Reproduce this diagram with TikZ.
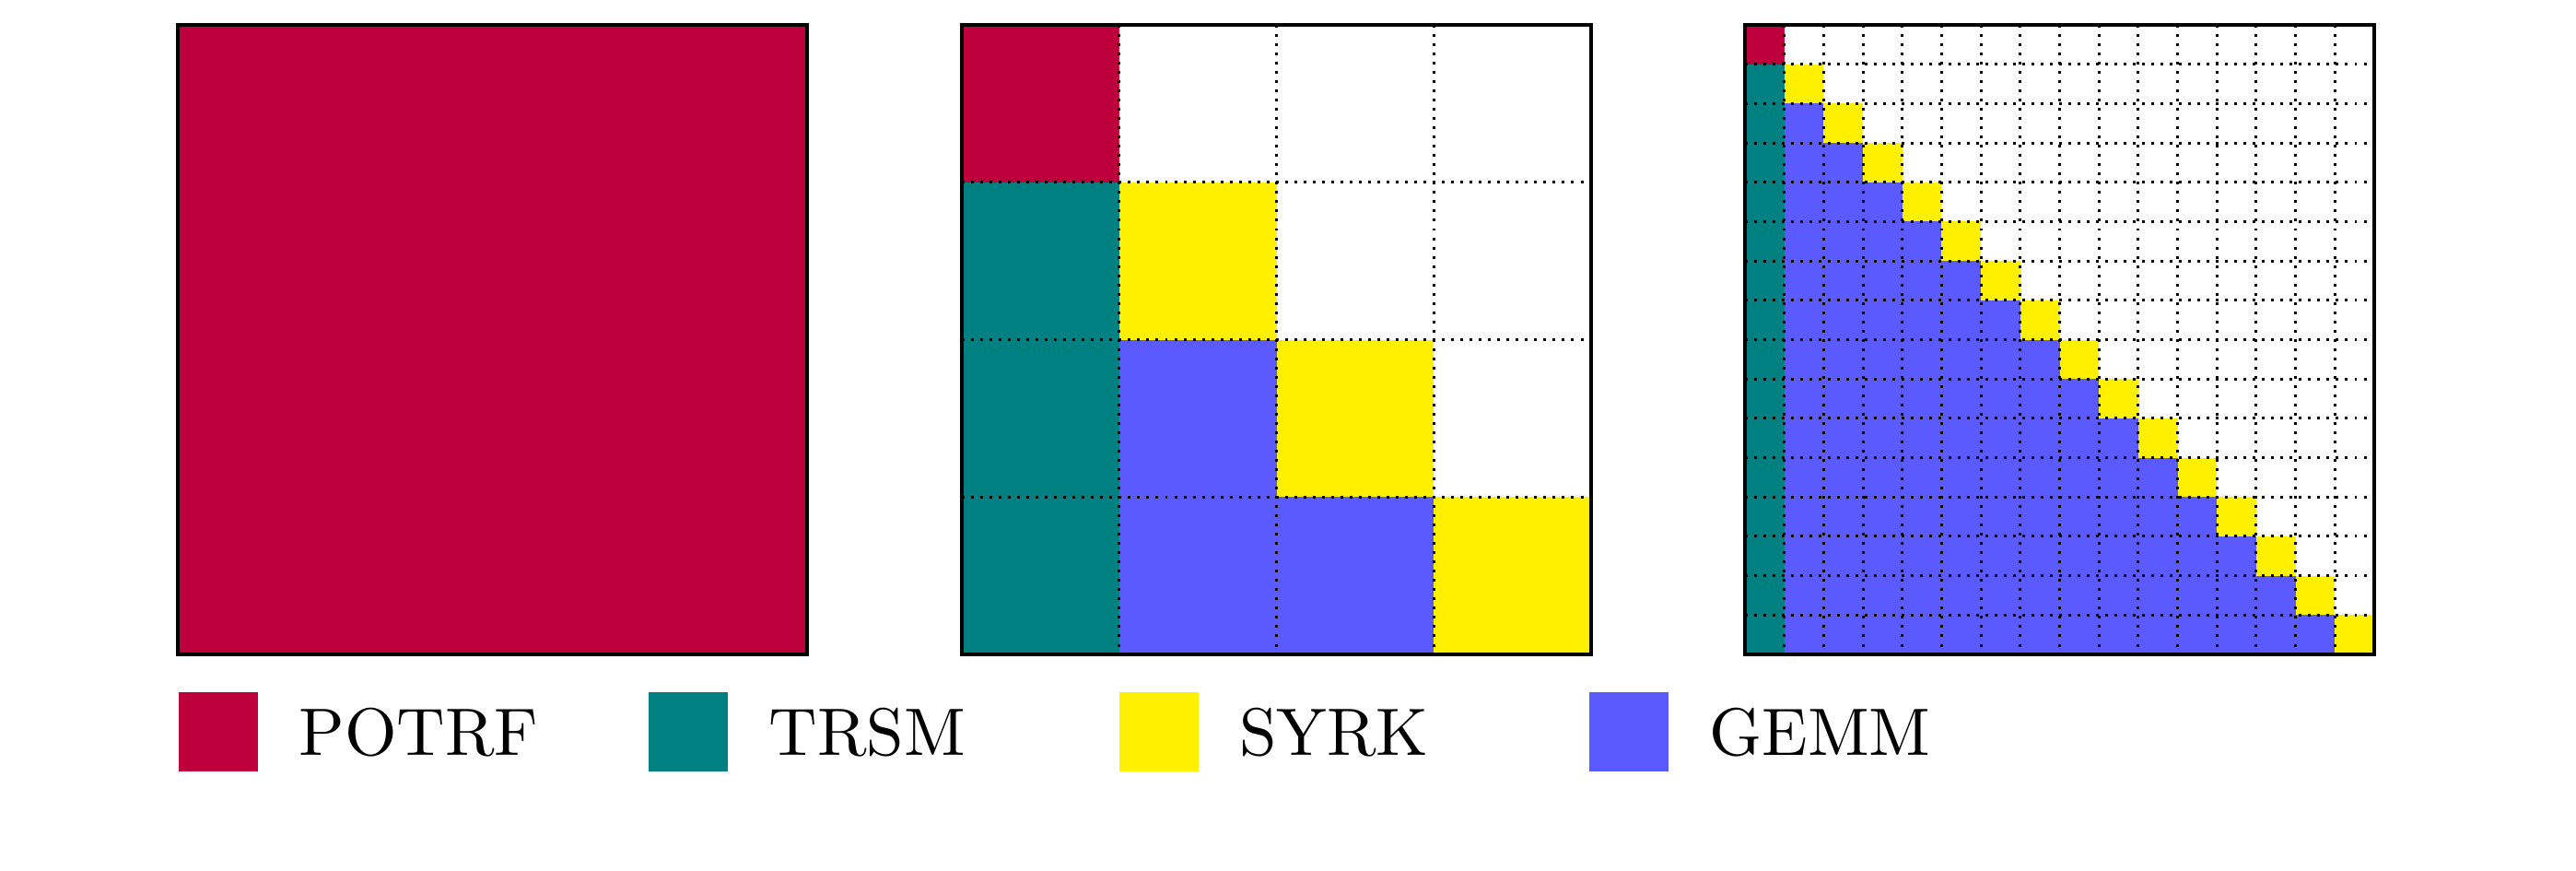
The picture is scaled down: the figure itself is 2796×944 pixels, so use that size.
\documentclass[tikz,border=0pt]{standalone}
\definecolor{potrf}{RGB}{189,0,60}
\definecolor{trsm}{RGB}{0,128,128}
\definecolor{syrk}{RGB}{255,240,0}
\definecolor{gemm}{RGB}{90,90,255}
\tikzset{
  border/.style={draw=black,line width=0.9pt},
  gridline/.style={line width=0.85pt,dotted},
  legbox/.style={minimum size=0.86cm,inner sep=0pt,outer sep=0pt},
  legtext/.style={anchor=base west,inner sep=0pt,scale=2.07,font=\fontsize{10}{12}\selectfont}
}
\newcommand\blockpanel[2]{% #1 = left x, #2 = blocks per side
  \pgfmathsetmacro\cs{683/#2}
  \foreach \i in {1,...,#2}{\foreach \j in {1,...,#2}{
    \ifnum\j=1
      \ifnum\i=1 \def\cc{potrf}\else\def\cc{trsm}\fi
    \else
      \ifnum\i=\j \def\cc{syrk}\else\ifnum\i>\j \def\cc{gemm}\else\def\cc{white}\fi\fi
    \fi
    \fill[\cc] ({#1+(\j-1)*\cs},{27+(\i-1)*\cs}) rectangle ++(\cs,\cs);
  }}
  \pgfmathtruncatemacro\nm{#2-1}
  \foreach \k in {1,...,\nm}{
    \draw[gridline] ({#1+\k*\cs},27) -- ({#1+\k*\cs},710);
    \draw[gridline] (#1,{27+\k*\cs}) -- ({#1+683},{27+\k*\cs});
  }
  \draw[border] (#1,27) rectangle ++(683,683);
}
\begin{document}
\begin{tikzpicture}[x=0.01cm,y=-0.01cm]
\useasboundingbox (0,0) rectangle (2796,944);
% panel 1
\fill[potrf] (193,27) rectangle ++(683,683);
\draw[border] (193,27) rectangle ++(683,683);
% panel 2
\blockpanel{1044}{4}
% panel 3
\blockpanel{1894}{16}
% legend
\node[legbox,fill=potrf] (lp) at (237,794) {};
\node[legtext] (tp) at (323,819) {POTRF};
\node[legbox,fill=trsm] (lt) at (747.3,794) {};
\node[legtext] (tt) at (833.3,819) {TRSM};
\node[legbox,fill=syrk] (ls) at (1257.7,794) {};
\node[legtext] (ts) at (1343.7,819) {SYRK};
\node[legbox,fill=gemm] (lg) at (1768,794) {};
\node[legtext] (tg) at (1854,819) {GEMM};
\end{tikzpicture}
\end{document}
